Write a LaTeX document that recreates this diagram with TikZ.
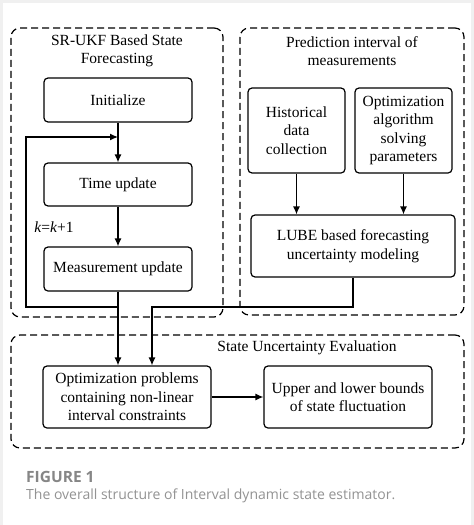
\documentclass[tikz,border=0pt]{standalone}
\usepackage{fontspec}
\setmainfont{Liberation Serif}
\newfontfamily\capfont{Open Sans}
\usetikzlibrary{arrows.meta}
\begin{document}
\begin{tikzpicture}[x=1pt,y=-1pt,
  every node/.style={font=\fontsize{15.5}{18.5}\selectfont},
  blk/.style={draw, line width=1.2pt, rounded corners=4pt, align=center, inner sep=0pt},
  grp/.style={draw, line width=1.2pt, dash pattern=on 7pt off 4pt, rounded corners=9pt},
  conn/.style={line width=1.2pt},
  arr/.style={conn, -{Latex[length=8pt,width=7pt]}},
  ttl/.style={align=center, inner sep=0pt}]
\useasboundingbox (0,0) rectangle (474,525);
\fill[gray!12] (0,0) rectangle (474,525);
\fill[white] (3,3) rectangle (471,525);
% groups
\node[grp, minimum width=212pt, minimum height=289pt] (g1) at (117,172.5) {};
\node[grp, minimum width=224pt, minimum height=287pt] (g2) at (352,171.5) {};
\node[grp, minimum width=453pt, minimum height=113pt] (g3) at (237.5,391.5) {};
\node[ttl] (t1) at (117,51) {SR-UKF Based State\\Forecasting};
\node[ttl] (t2) at (352,51) {Prediction interval of\\measurements};
\node[ttl] (t3) at (307,348) {State Uncertainty Evaluation};
% blocks
\node[blk, minimum width=148pt, minimum height=44pt] (init) at (118,100) {Initialize};
\node[blk, minimum width=148pt, minimum height=43pt] (time) at (118,184.5) {Time update};
\node[blk, minimum width=148pt, minimum height=44pt] (meas) at (118,269) {Measurement update};
\node[blk, minimum width=97pt, minimum height=85pt] (hist) at (296.5,130.5) {Historical\\data\\collection};
\node[blk, minimum width=97pt, minimum height=85pt] (opt) at (403.5,130.5) {Optimization\\algorithm\\solving\\parameters};
\node[blk, minimum width=204pt, minimum height=62pt] (lube) at (353,246) {LUBE based forecasting\\uncertainty modeling};
\node[blk, minimum width=168pt, minimum height=62pt] (optp) at (127,397) {Optimization problems\\containing non-linear\\interval constraints};
\node[blk, minimum width=168pt, minimum height=62pt] (upper) at (348,397) {Upper and lower bounds\\of state fluctuation};
\node[inner sep=0pt] (kk) at (54,227) {\textit{k}=\textit{k}+1};
% connectors
\coordinate (loopL) at (26,307);
\coordinate (loopJ) at (118,137);
\coordinate (lj) at (152,307);
\draw[arr] (init.south) -- (time.north);
\draw[arr] (time.south) -- (meas.north);
\draw[arr] (meas.south |- loopL) -- (loopL) |- (loopJ);
\draw[arr] (meas.south) -- (meas.south |- optp.north);
\draw[arr] (lube.south) |- (lj) -- (lj |- optp.north);
\draw[arr] (hist.south) -- (hist.south |- lube.north);
\draw[arr] (opt.south) -- (opt.south |- lube.north);
\draw[arr] (optp.east) -- (upper.west);
% caption
\node[anchor=west, inner sep=0pt, font=\capfont\bfseries\fontsize{15.5}{18}\selectfont, text=gray!95!white] (fig) at (26,477) {FIGURE 1};
\node[anchor=west, inner sep=0pt, font=\capfont\fontsize{14}{17}\selectfont, text=gray!85!white] (cap) at (26,496) {The overall structure of Interval dynamic state estimator.};
\end{tikzpicture}
\end{document}
